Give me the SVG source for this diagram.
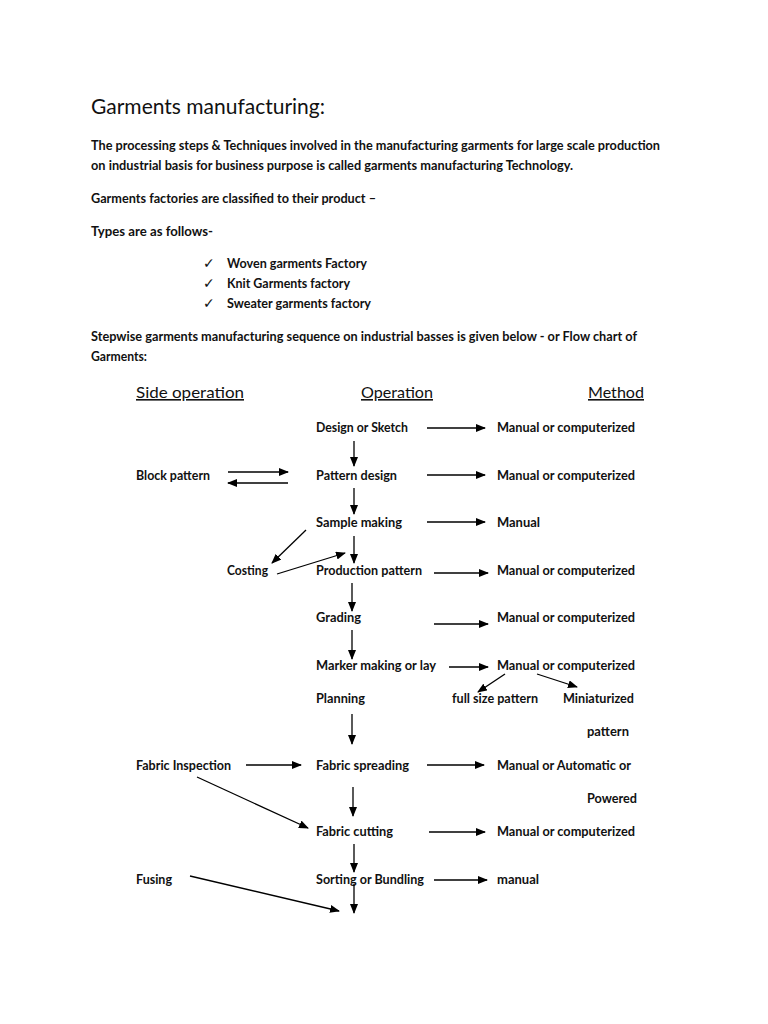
<svg xmlns="http://www.w3.org/2000/svg" width="768" height="1024" viewBox="0 0 768 1024">
<defs>
<style>
.t{font-family:Lato,"Open Sans","Liberation Sans",sans-serif;font-weight:bold;font-size:12.6px;fill:#111}
.h{font-family:Lato,"Open Sans","Liberation Sans",sans-serif;font-size:21px;fill:#111}
.hd{font-family:Lato,"Open Sans","Liberation Sans",sans-serif;font-size:16px;fill:#111;text-decoration:underline}
.ck{font-family:"DejaVu Sans",sans-serif;font-size:14px;fill:#111}
.c{stroke:#000;stroke-width:1.3;fill:none}
</style>
<marker id="ah" markerUnits="userSpaceOnUse" markerWidth="10" markerHeight="8" refX="9" refY="4" orient="auto">
<path d="M0,0 L10,4 L0,8 Z" fill="#000"/>
</marker>
</defs>
<rect width="768" height="1024" fill="#fff"/>

<g id="intro">
<text class="h" x="91" y="114">Garments manufacturing:</text>
<text class="t" x="91" y="150" textLength="569" lengthAdjust="spacingAndGlyphs">The processing steps &amp; Techniques involved in the manufacturing garments for large scale production</text>
<text class="t" x="91" y="170" textLength="482" lengthAdjust="spacingAndGlyphs">on industrial basis for business purpose is called garments manufacturing Technology.</text>
<text class="t" x="91" y="203" textLength="285" lengthAdjust="spacingAndGlyphs">Garments factories are classified to their product –</text>
<text class="t" x="91" y="236" textLength="122" lengthAdjust="spacingAndGlyphs">Types are as follows-</text>
<text class="ck" x="203" y="268">✓</text>
<text class="t" x="227" y="268" textLength="140" lengthAdjust="spacingAndGlyphs">Woven garments Factory</text>
<text class="ck" x="203" y="288">✓</text>
<text class="t" x="227" y="288" textLength="123" lengthAdjust="spacingAndGlyphs">Knit Garments factory</text>
<text class="ck" x="203" y="308">✓</text>
<text class="t" x="227" y="308" textLength="144" lengthAdjust="spacingAndGlyphs">Sweater garments factory</text>
<text class="t" x="91" y="341" textLength="546" lengthAdjust="spacingAndGlyphs">Stepwise garments manufacturing sequence on industrial basses is given below -  or Flow chart of</text>
<text class="t" x="91" y="361" textLength="56" lengthAdjust="spacingAndGlyphs">Garments:</text>
</g>

<g id="headers">
<text class="hd" x="136" y="398" textLength="108" lengthAdjust="spacingAndGlyphs">Side operation </text>
<text class="hd" x="361" y="398" textLength="72" lengthAdjust="spacingAndGlyphs">Operation</text>
<text class="hd" x="588" y="398" textLength="56" lengthAdjust="spacingAndGlyphs">Method</text>
</g>

<g id="operations">
<g id="op-design"><text class="t" x="316" y="432" textLength="92" lengthAdjust="spacingAndGlyphs">Design or Sketch</text></g>
<g id="op-pattern"><text class="t" x="316" y="480" textLength="81" lengthAdjust="spacingAndGlyphs">Pattern design</text></g>
<g id="op-sample"><text class="t" x="316" y="527" textLength="86" lengthAdjust="spacingAndGlyphs">Sample making</text></g>
<g id="op-production"><text class="t" x="316" y="575" textLength="106" lengthAdjust="spacingAndGlyphs">Production pattern</text></g>
<g id="op-grading"><text class="t" x="316" y="622" textLength="45" lengthAdjust="spacingAndGlyphs">Grading</text></g>
<g id="op-marker"><text class="t" x="316" y="670" textLength="120" lengthAdjust="spacingAndGlyphs">Marker making or lay</text><text class="t" x="316" y="703" textLength="49" lengthAdjust="spacingAndGlyphs">Planning</text></g>
<g id="op-spreading"><text class="t" x="316" y="770" textLength="93" lengthAdjust="spacingAndGlyphs">Fabric spreading</text></g>
<g id="op-cutting"><text class="t" x="316" y="836" textLength="77" lengthAdjust="spacingAndGlyphs">Fabric cutting</text></g>
<g id="op-sorting"><text class="t" x="316" y="884" textLength="108" lengthAdjust="spacingAndGlyphs">Sorting or Bundling</text></g>
</g>

<g id="side">
<g id="side-block"><text class="t" x="136" y="480" textLength="74" lengthAdjust="spacingAndGlyphs">Block pattern</text></g>
<g id="side-costing"><text class="t" x="227" y="575" textLength="41" lengthAdjust="spacingAndGlyphs">Costing</text></g>
<g id="side-inspection"><text class="t" x="136" y="770" textLength="95" lengthAdjust="spacingAndGlyphs">Fabric Inspection</text></g>
<g id="side-fusing"><text class="t" x="136" y="884" textLength="36" lengthAdjust="spacingAndGlyphs">Fusing</text></g>
</g>

<g id="methods">
<g id="m1"><text class="t" x="497" y="432" textLength="138" lengthAdjust="spacingAndGlyphs">Manual or computerized</text></g>
<g id="m2"><text class="t" x="497" y="480" textLength="138" lengthAdjust="spacingAndGlyphs">Manual or computerized</text></g>
<g id="m3"><text class="t" x="497" y="527" textLength="43" lengthAdjust="spacingAndGlyphs">Manual</text></g>
<g id="m4"><text class="t" x="497" y="575" textLength="138" lengthAdjust="spacingAndGlyphs">Manual or computerized</text></g>
<g id="m5"><text class="t" x="497" y="622" textLength="138" lengthAdjust="spacingAndGlyphs">Manual or computerized</text></g>
<g id="m6"><text class="t" x="497" y="670" textLength="138" lengthAdjust="spacingAndGlyphs">Manual or computerized</text></g>
<g id="m6a"><text class="t" x="452" y="703" textLength="86" lengthAdjust="spacingAndGlyphs">full size pattern</text></g>
<g id="m6b"><text class="t" x="563" y="703" textLength="71" lengthAdjust="spacingAndGlyphs">Miniaturized</text><text class="t" x="587" y="736" textLength="42" lengthAdjust="spacingAndGlyphs">pattern</text></g>
<g id="m7"><text class="t" x="497" y="770" textLength="134" lengthAdjust="spacingAndGlyphs">Manual or Automatic or</text><text class="t" x="587" y="803" textLength="50" lengthAdjust="spacingAndGlyphs">Powered</text></g>
<g id="m8"><text class="t" x="497" y="836" textLength="138" lengthAdjust="spacingAndGlyphs">Manual or computerized</text></g>
<g id="m9"><text class="t" x="497" y="884" textLength="42" lengthAdjust="spacingAndGlyphs">manual</text></g>
</g>

<g id="connectors">
<line class="c" x1="427" y1="428" x2="485" y2="428" marker-end="url(#ah)"/>
<line class="c" x1="354" y1="441" x2="354" y2="466" marker-end="url(#ah)"/>
<line class="c" x1="228" y1="472" x2="288" y2="472" marker-end="url(#ah)"/>
<line class="c" x1="288" y1="483" x2="228" y2="483" marker-end="url(#ah)"/>
<line class="c" x1="427" y1="475" x2="485" y2="475" marker-end="url(#ah)"/>
<line class="c" x1="354" y1="488" x2="354" y2="514" marker-end="url(#ah)"/>
<line class="c" x1="427" y1="522" x2="485" y2="522" marker-end="url(#ah)"/>
<line class="c" x1="306" y1="530" x2="272" y2="563" marker-end="url(#ah)"/>
<line class="c" x1="277" y1="574" x2="345" y2="553" marker-end="url(#ah)"/>
<line class="c" x1="354" y1="536" x2="354" y2="563" marker-end="url(#ah)"/>
<line class="c" x1="434" y1="573" x2="488" y2="573" marker-end="url(#ah)"/>
<line class="c" x1="352" y1="583" x2="352" y2="611" marker-end="url(#ah)"/>
<line class="c" x1="434" y1="624" x2="488" y2="624" marker-end="url(#ah)"/>
<line class="c" x1="352" y1="630" x2="352" y2="659" marker-end="url(#ah)"/>
<line class="c" x1="449" y1="667" x2="488" y2="667" marker-end="url(#ah)"/>
<line class="c" x1="505" y1="674" x2="478" y2="692" marker-end="url(#ah)"/>
<line class="c" x1="537" y1="674" x2="577" y2="687" marker-end="url(#ah)"/>
<line class="c" x1="352" y1="714" x2="352" y2="744" marker-end="url(#ah)"/>
<line class="c" x1="246" y1="765" x2="301" y2="765" marker-end="url(#ah)"/>
<line class="c" x1="427" y1="765" x2="484" y2="765" marker-end="url(#ah)"/>
<line class="c" x1="353" y1="787" x2="353" y2="816" marker-end="url(#ah)"/>
<line class="c" x1="197" y1="777" x2="308" y2="828" marker-end="url(#ah)"/>
<line class="c" x1="429" y1="832" x2="485" y2="832" marker-end="url(#ah)"/>
<line class="c" x1="354" y1="844" x2="354" y2="872" marker-end="url(#ah)"/>
<line class="c" x1="434" y1="880" x2="487" y2="880" marker-end="url(#ah)"/>
<line class="c" x1="354" y1="884" x2="354" y2="913" marker-end="url(#ah)"/>
<line class="c" x1="190" y1="876" x2="339" y2="911" marker-end="url(#ah)"/>
</g>
</svg>
